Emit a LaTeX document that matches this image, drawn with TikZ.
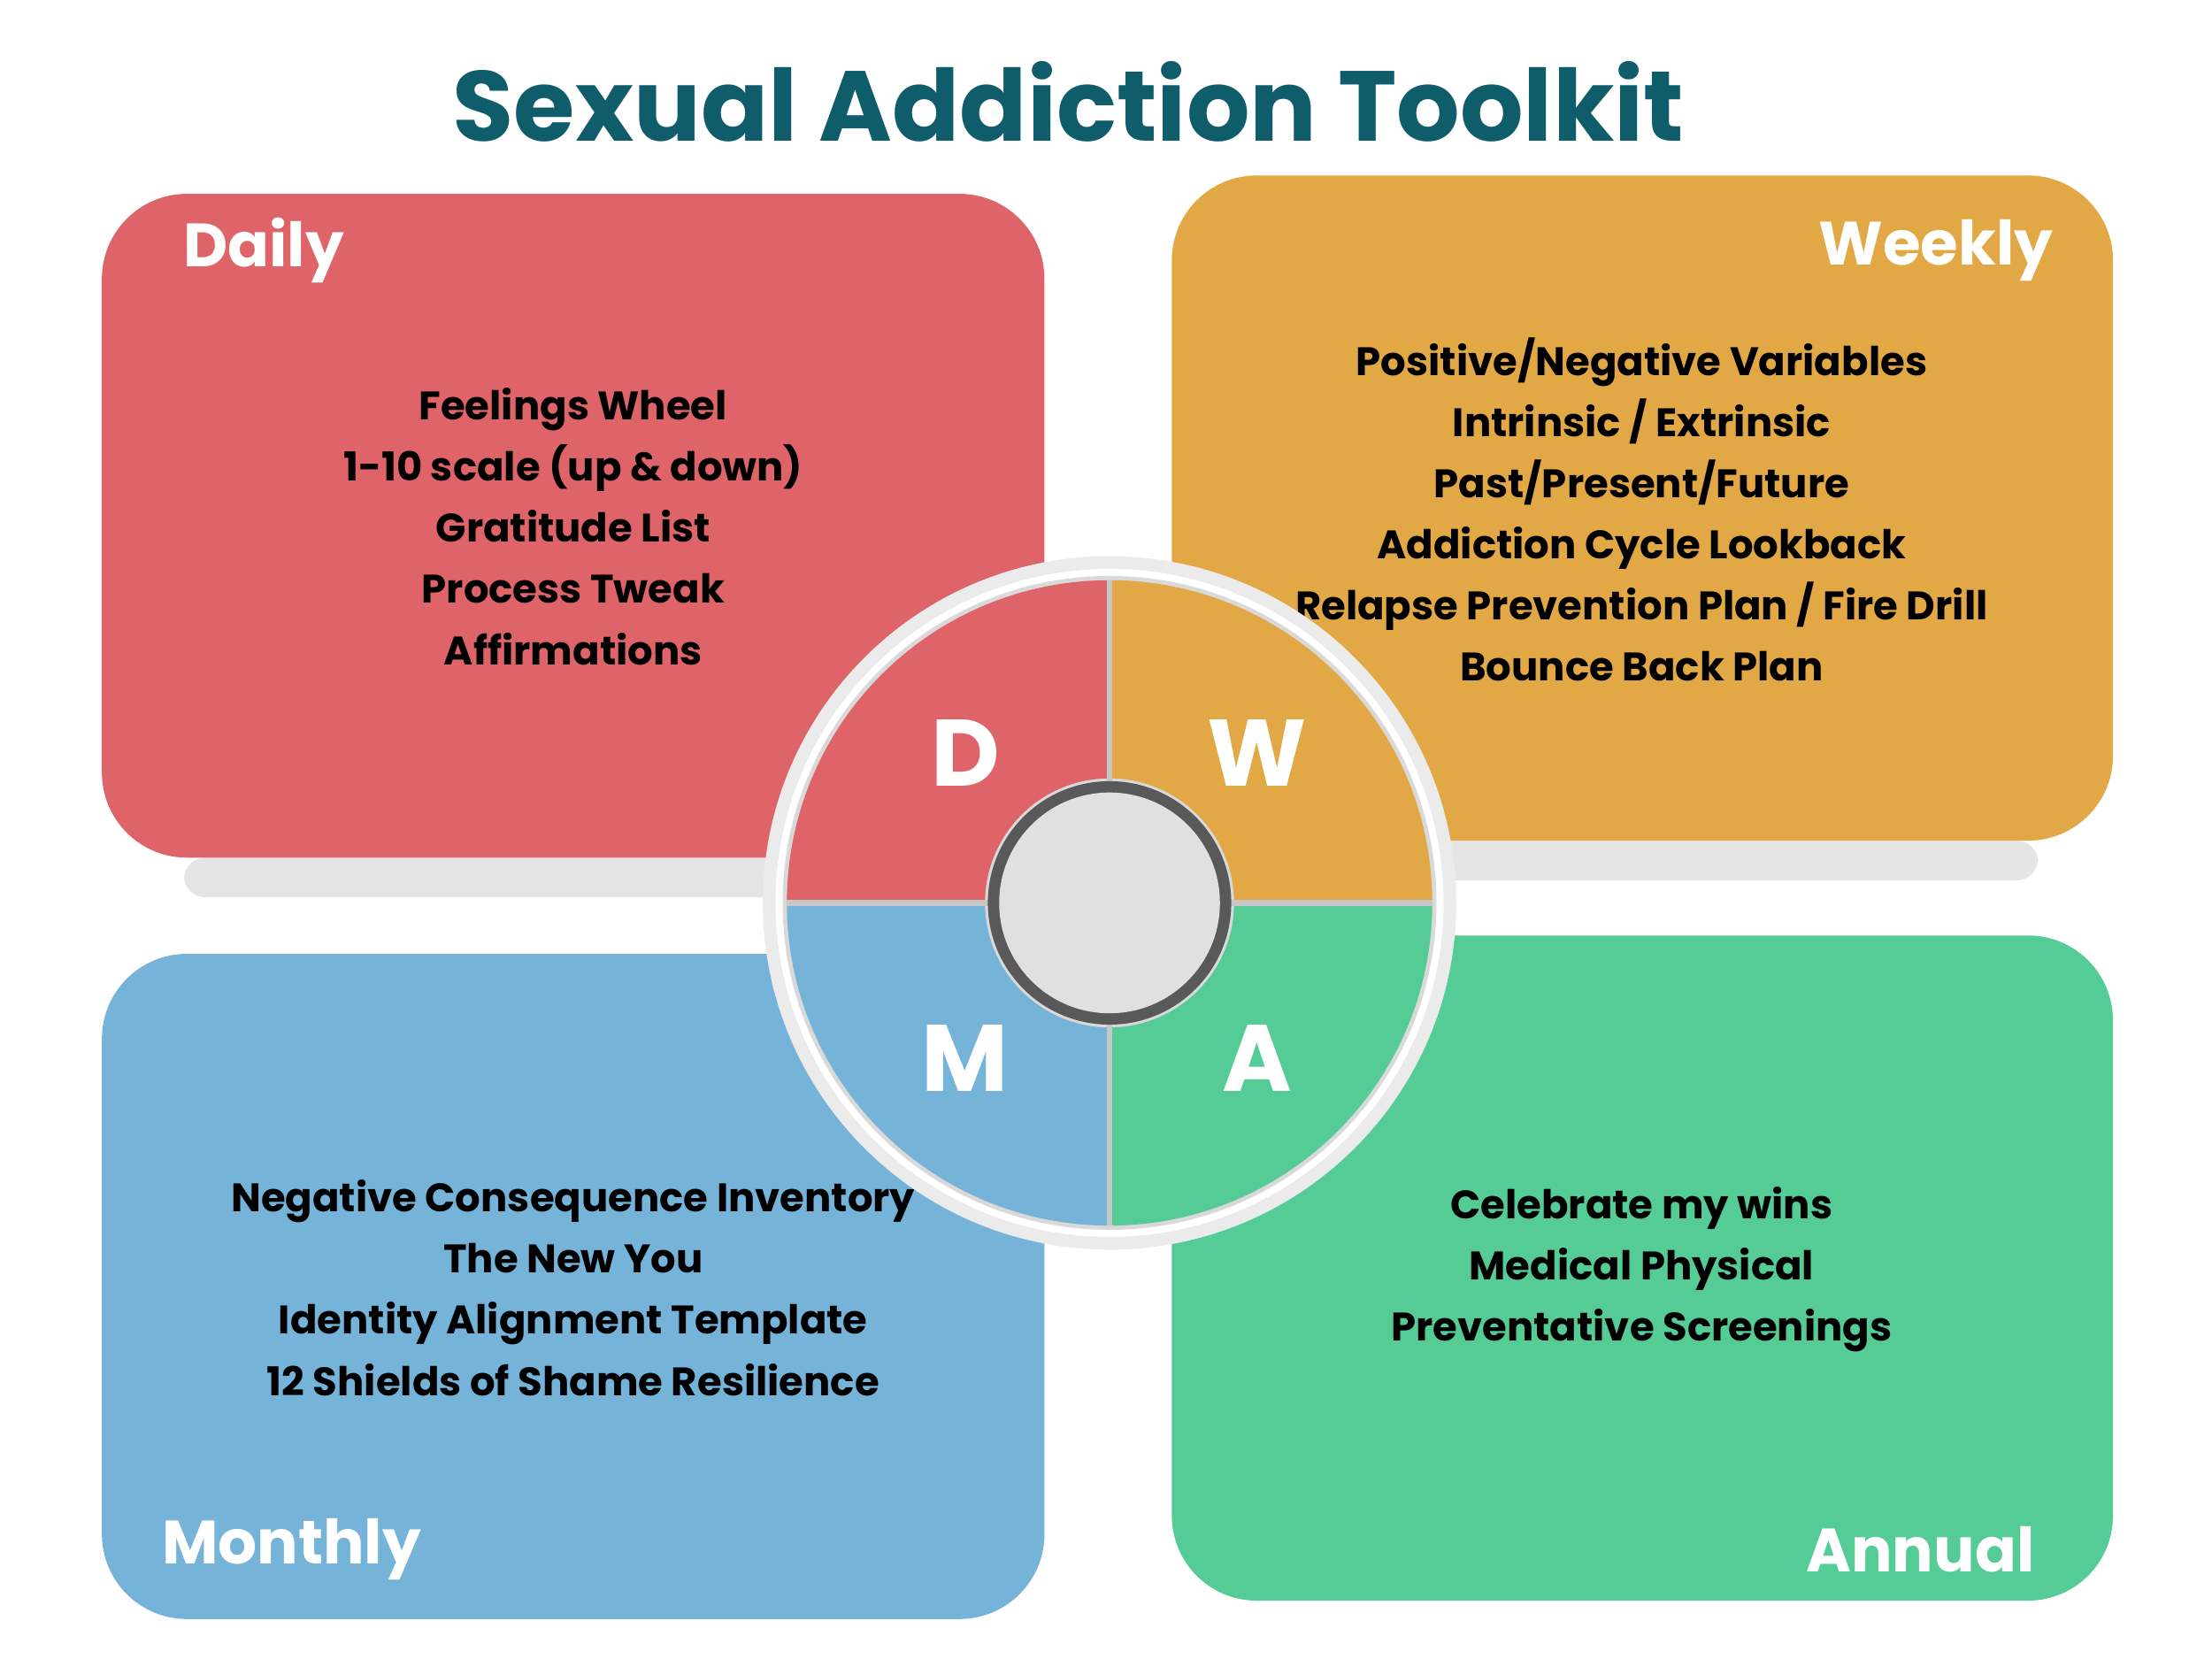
\documentclass[tikz,border=0pt]{standalone}
\usepackage{fontspec}
\setmainfont{Poppins}
\definecolor{ttl}{HTML}{0F5C6B}
\definecolor{colD}{HTML}{DE6469}
\definecolor{colW}{HTML}{E2A845}
\definecolor{colM}{HTML}{76B3D8}
\definecolor{colA}{HTML}{55CC96}
\begin{document}
\begin{tikzpicture}[x=0.1mm,y=-0.1mm,
  card/.style={rounded corners=6mm},
  lst/.style={font=\fontsize{8pt}{12.3pt}\selectfont\bfseries,align=center,text=black},
  hd/.style={font=\fontsize{12.3pt}{15pt}\selectfont\bfseries,text=white},
  let/.style={font=\fontsize{19pt}{22pt}\selectfont\bfseries,text=white}]
\useasboundingbox (0,0) rectangle (1563,1172);
\fill[white] (0,0) rectangle (1563,1172);
\node[font=\fontsize{20pt}{24pt}\selectfont\bfseries,text=ttl] (title) at (755,72) {Sexual Addiction Toolkit};
\foreach \x/\y in {130/606,880/594}{\fill[black!10,rounded corners=1.5mm] (\x,\y) rectangle ++(560,28);}
\fill[colD,card] (72,137) rectangle (738,606);
\fill[colW,card] (828,124) rectangle (1493,594);
\fill[colM,card] (72,674) rectangle (738,1144);
\fill[colA,card] (828,661) rectangle (1493,1131);
\node[hd,anchor=west] (hd) at (117,177) {Daily};
\node[hd,anchor=east] (hw) at (1463,177) {Weekly};
\node[hd,anchor=west] (hm) at (102,1095) {Monthly};
\node[hd,anchor=east] (ha) at (1450,1095) {Annual};
\node[lst] (ld) at (405,372) {Feelings Wheel\\1-10 scale (up \& down)\\Gratitude List\\Process Tweak\\Affirmations};
\node[lst] (lw) at (1160,360) {Positive/Negative Variables\\Intrinsic / Extrinsic\\Past/Present/Future\\Addiction Cycle Lookback\\Relapse Prevention Plan / Fire Drill\\Bounce Back Plan};
\node[lst] (lm) at (405,910) {Negative Consequence Inventory\\The New You\\Identity Alignment Template\\12 Shields of Shame Resilience};
\node[lst] (la) at (1160,897) {Celebrate my wins\\Medical Physical\\Preventative Screenings};
\coordinate (c) at (784,638);
\begin{scope}[shift={(c)},y=0.1mm]
\fill[black!8] (0,0) circle (245);
\fill[white] (0,0) circle (236);
\fill[black!15] (0,0) circle (231);
\fill[colD] (180:228) arc (180:90:228) -- (0,88) arc (90:180:88) -- cycle;
\fill[colW] (90:228) arc (90:0:228) -- (88,0) arc (0:90:88) -- cycle;
\fill[colA] (0:228) arc (0:-90:228) -- (0,-88) arc (-90:0:88) -- cycle;
\fill[colM] (-90:228) arc (-90:-180:228) -- (-88,0) arc (-180:-90:88) -- cycle;
\draw[black!22,line width=0.4mm] (0,-228) -- (0,228) (-228,0) -- (228,0);
\fill[black!65] (0,0) circle (86);
\fill[black!12] (0,0) circle (78);
\end{scope}
\node[let] (D) at (682,532) {D};
\node[let] (W) at (888,532) {W};
\node[let] (M) at (682,748) {M};
\node[let] (A) at (888,748) {A};
\end{tikzpicture}
\end{document}
